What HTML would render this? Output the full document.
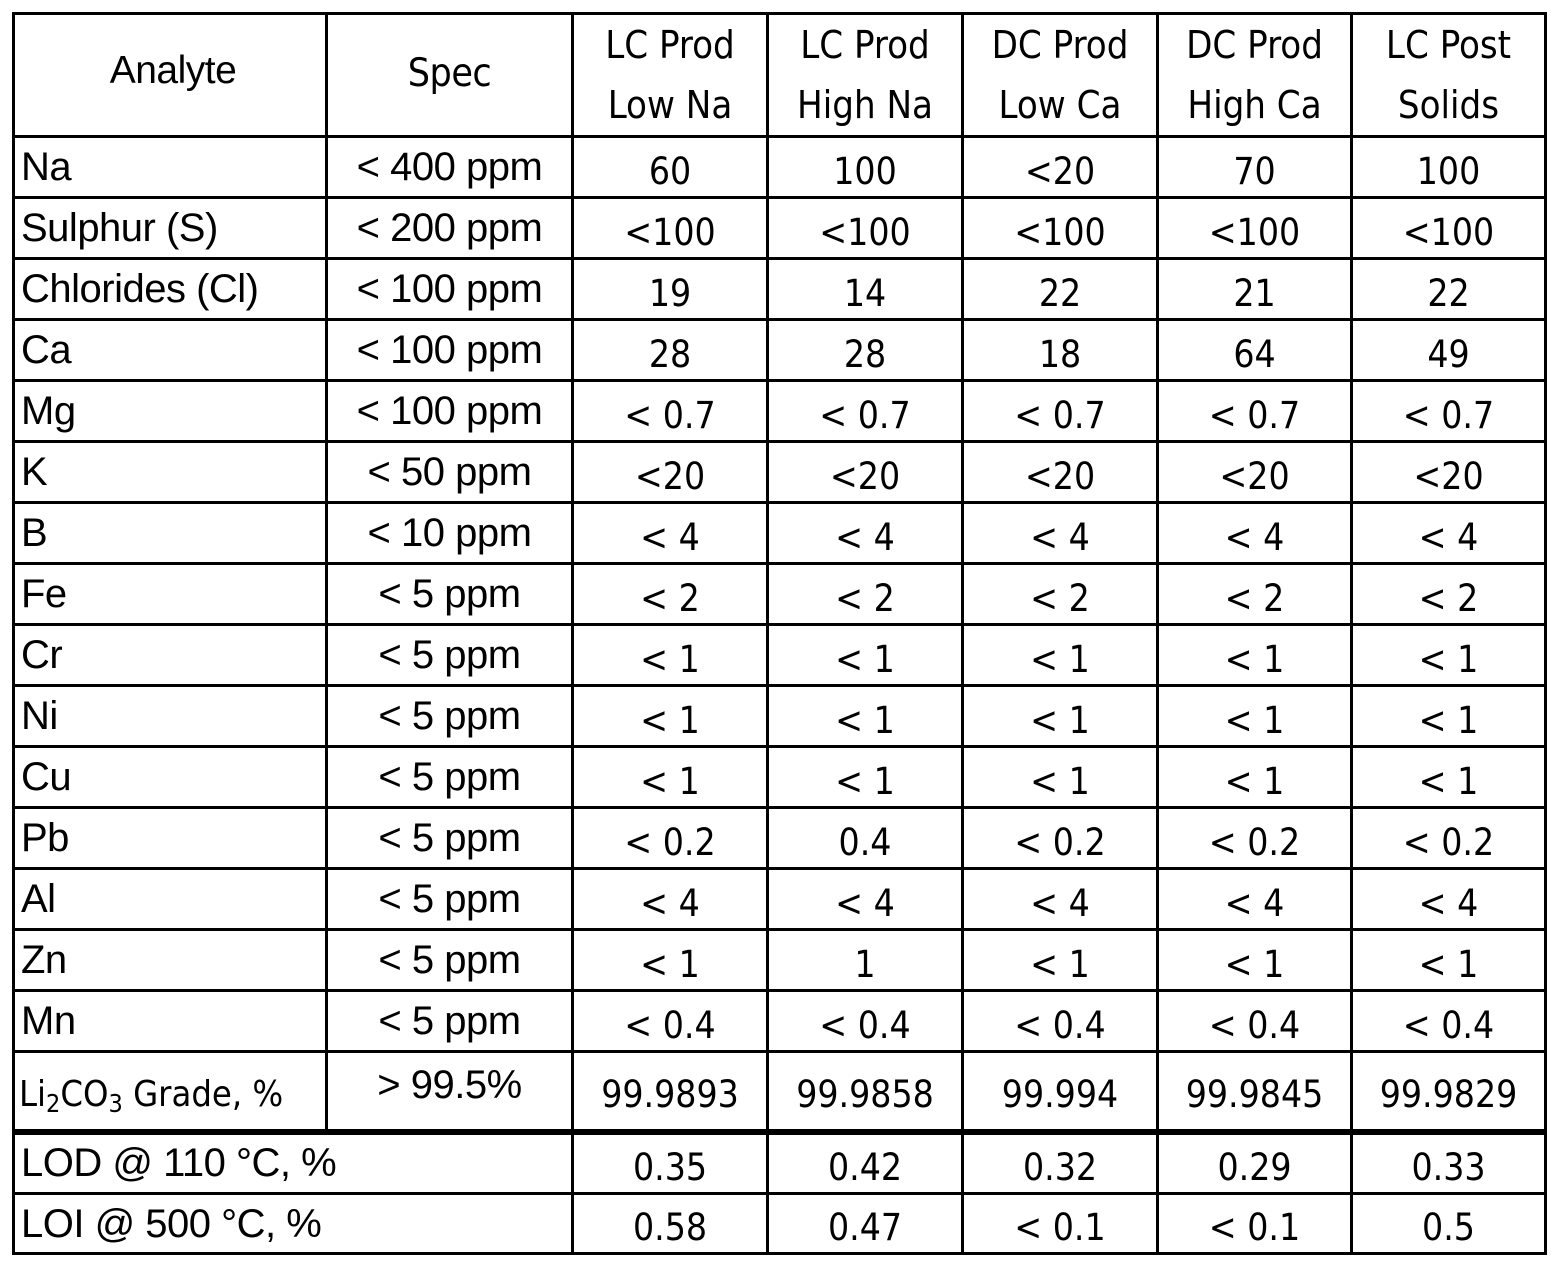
<!DOCTYPE html>
<html><head><meta charset="utf-8"><style>
html,body{margin:0;padding:0;background:#fff;width:1559px;height:1264px;overflow:hidden}
table{position:absolute;left:12px;top:12px;border-collapse:collapse;table-layout:fixed;width:1532px}
td{border:3px solid #000;padding:0;text-align:center;vertical-align:middle;color:#000;
 font-family:"Liberation Sans Narrow","DejaVu Sans Condensed","Liberation Sans",sans-serif;font-size:37px;line-height:1;padding-top:8px;overflow:hidden;white-space:nowrap}
td.a{text-align:left;padding-left:6px;font-family:"Liberation Sans",sans-serif;font-size:40px;padding-top:0;letter-spacing:-0.5px}
td.s{font-family:"Liberation Sans",sans-serif;font-size:40px;padding-top:0;letter-spacing:-0.5px}
tr{height:61px}
tr.h{height:123px}
tr.h td{font-size:38px;line-height:60px;padding-top:0}
tr.h td.a{font-size:39px;padding-bottom:8px}
tr.h td.s{font-family:"Liberation Sans Narrow","DejaVu Sans Condensed",sans-serif;font-size:39px;padding-bottom:2px}
tr.g{height:80px}
tr.g td{border-bottom:6px solid #000}
td.g1{font-family:"Liberation Sans Narrow","DejaVu Sans Condensed",sans-serif;font-size:36px;padding-left:4px;padding-top:8px;letter-spacing:0}
sub{font-size:25px;vertical-align:-6px;line-height:0}
</style></head><body>
<table>
<colgroup><col style="width:313px"><col style="width:246px"><col style="width:195px"><col style="width:195px"><col style="width:195px"><col style="width:194px"><col style="width:194px"></colgroup>
<tr class="h"><td class="a" style="text-align:center">Analyte</td><td class="s">Spec</td><td>LC Prod<br>Low Na</td><td>LC Prod<br>High Na</td><td>DC Prod<br>Low Ca</td><td>DC Prod<br>High Ca</td><td>LC Post<br>Solids</td></tr>
<tr><td class="a">Na</td><td class="s">&lt; 400 ppm</td><td>60</td><td>100</td><td>&lt;20</td><td>70</td><td>100</td></tr>
<tr><td class="a">Sulphur (S)</td><td class="s">&lt; 200 ppm</td><td>&lt;100</td><td>&lt;100</td><td>&lt;100</td><td>&lt;100</td><td>&lt;100</td></tr>
<tr><td class="a">Chlorides (Cl)</td><td class="s">&lt; 100 ppm</td><td>19</td><td>14</td><td>22</td><td>21</td><td>22</td></tr>
<tr><td class="a">Ca</td><td class="s">&lt; 100 ppm</td><td>28</td><td>28</td><td>18</td><td>64</td><td>49</td></tr>
<tr><td class="a">Mg</td><td class="s">&lt; 100 ppm</td><td>&lt; 0.7</td><td>&lt; 0.7</td><td>&lt; 0.7</td><td>&lt; 0.7</td><td>&lt; 0.7</td></tr>
<tr><td class="a">K</td><td class="s">&lt; 50 ppm</td><td>&lt;20</td><td>&lt;20</td><td>&lt;20</td><td>&lt;20</td><td>&lt;20</td></tr>
<tr><td class="a">B</td><td class="s">&lt; 10 ppm</td><td>&lt; 4</td><td>&lt; 4</td><td>&lt; 4</td><td>&lt; 4</td><td>&lt; 4</td></tr>
<tr><td class="a">Fe</td><td class="s">&lt; 5 ppm</td><td>&lt; 2</td><td>&lt; 2</td><td>&lt; 2</td><td>&lt; 2</td><td>&lt; 2</td></tr>
<tr><td class="a">Cr</td><td class="s">&lt; 5 ppm</td><td>&lt; 1</td><td>&lt; 1</td><td>&lt; 1</td><td>&lt; 1</td><td>&lt; 1</td></tr>
<tr><td class="a">Ni</td><td class="s">&lt; 5 ppm</td><td>&lt; 1</td><td>&lt; 1</td><td>&lt; 1</td><td>&lt; 1</td><td>&lt; 1</td></tr>
<tr><td class="a">Cu</td><td class="s">&lt; 5 ppm</td><td>&lt; 1</td><td>&lt; 1</td><td>&lt; 1</td><td>&lt; 1</td><td>&lt; 1</td></tr>
<tr><td class="a">Pb</td><td class="s">&lt; 5 ppm</td><td>&lt; 0.2</td><td>0.4</td><td>&lt; 0.2</td><td>&lt; 0.2</td><td>&lt; 0.2</td></tr>
<tr><td class="a">Al</td><td class="s">&lt; 5 ppm</td><td>&lt; 4</td><td>&lt; 4</td><td>&lt; 4</td><td>&lt; 4</td><td>&lt; 4</td></tr>
<tr><td class="a">Zn</td><td class="s">&lt; 5 ppm</td><td>&lt; 1</td><td>1</td><td>&lt; 1</td><td>&lt; 1</td><td>&lt; 1</td></tr>
<tr><td class="a">Mn</td><td class="s">&lt; 5 ppm</td><td>&lt; 0.4</td><td>&lt; 0.4</td><td>&lt; 0.4</td><td>&lt; 0.4</td><td>&lt; 0.4</td></tr>
<tr class="g"><td class="a g1">Li<sub>2</sub>CO<sub>3</sub> Grade, %</td><td class="s" style="padding-bottom:12px">&gt; 99.5%</td><td>99.9893</td><td>99.9858</td><td>99.994</td><td>99.9845</td><td>99.9829</td></tr>
<tr style="height:62px"><td class="a" colspan="2">LOD @ 110 °C, %</td><td>0.35</td><td>0.42</td><td>0.32</td><td>0.29</td><td>0.33</td></tr>
<tr style="height:60px"><td class="a" colspan="2">LOI @ 500 °C, %</td><td>0.58</td><td>0.47</td><td>&lt; 0.1</td><td>&lt; 0.1</td><td>0.5</td></tr>
</table>
</body></html>
